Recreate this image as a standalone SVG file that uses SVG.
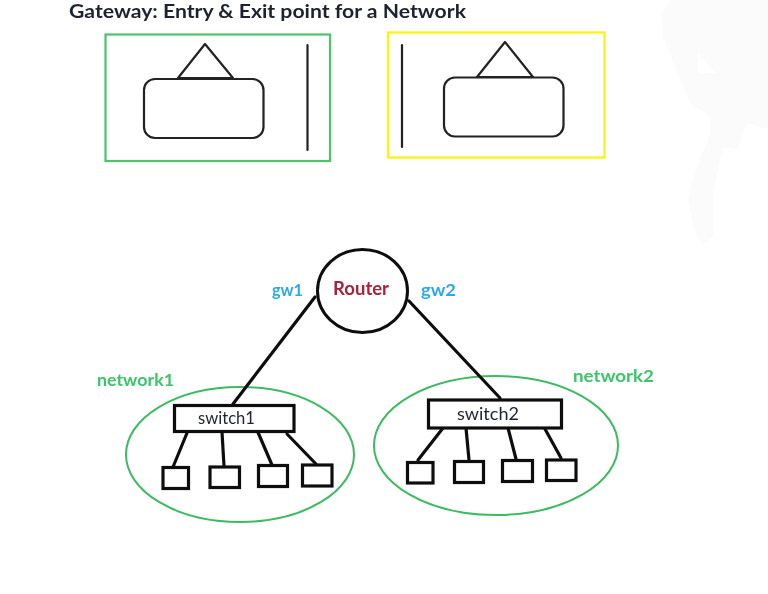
<svg xmlns="http://www.w3.org/2000/svg" width="768" height="594" viewBox="0 0 768 594">
<defs><filter id="soft" x="-5%" y="-5%" width="110%" height="110%"><feGaussianBlur stdDeviation="0.45"/></filter></defs>
<style>
text{font-family:"Lato","Open Sans","Liberation Sans",sans-serif}
.sh{fill:none;stroke:#222;stroke-width:2.2;stroke-linejoin:round;stroke-linecap:round}
.th{fill:none;stroke:#111;stroke-width:3.2;stroke-linecap:round}
.box{fill:#fff;stroke:#111;stroke-width:3.2}
.net{fill:none;stroke:#3dbb62;stroke-width:2}
.lab{font-size:17px;font-weight:700;fill:#3cc46a}
.gw{font-size:17px;font-weight:700;fill:#2aa9e8}
.sw{font-size:17px;fill:#1c2433}
</style>
<rect width="768" height="594" fill="#fff"/>
<g filter="url(#soft)">
<path id="watermark" fill="#fbfbfb" fill-rule="evenodd" d="M670 0L662 13L663 37L680 80L690 103L710 117L710 133L690 187L688 200L695 233L703 245L713 237L713 193L723 147L737 150L747 123L760 127L768 130L768 0ZM698 53L698 73L715 73Z"/>
<text id="title" x="69" y="18" font-size="19" font-weight="700" fill="#1d2230" textLength="397" lengthAdjust="spacingAndGlyphs">Gateway: Entry &amp; Exit point for a Network</text>
<g id="gateway-green">
<rect x="105.500" y="34.500" width="224.500" height="126.500" fill="none" stroke="#4cc46c" stroke-width="2.200"/>
<path class="sh" d="M178 78L205 44L233 78Z"/>
<rect class="sh" x="144" y="79" width="119.500" height="59" rx="11"/>
<line class="sh" x1="307.500" y1="45" x2="307.500" y2="150"/>
</g>
<g id="gateway-yellow">
<rect x="388" y="32.500" width="216.500" height="125" fill="none" stroke="#fff21c" stroke-width="2.400"/>
<path class="sh" d="M477 77L505 42L533 77Z"/>
<rect class="sh" x="444" y="77.500" width="119.500" height="59" rx="11"/>
<line class="sh" x1="402" y1="45" x2="402" y2="147"/>
</g>
<g id="network1">
<ellipse class="net" cx="240" cy="454.500" rx="114" ry="67.500"/>
<text class="lab" x="97" y="386" textLength="77" lengthAdjust="spacingAndGlyphs">network1</text>
</g>
<g id="network2">
<ellipse class="net" cx="496" cy="445.500" rx="122" ry="69.500"/>
<text class="lab" x="573" y="382" textLength="81" lengthAdjust="spacingAndGlyphs">network2</text>
</g>
<g id="connectors">
<line class="th" x1="315" y1="297" x2="233" y2="404"/>
<line class="th" x1="409" y1="301" x2="500" y2="398"/>
<line class="th" x1="187" y1="433" x2="173" y2="467"/>
<line class="th" x1="222" y1="432" x2="224" y2="466"/>
<line class="th" x1="257" y1="430" x2="272" y2="465"/>
<line class="th" x1="287" y1="434" x2="316" y2="464"/>
<line class="th" x1="443" y1="428" x2="418" y2="460"/>
<line class="th" x1="466" y1="428" x2="469" y2="460"/>
<line class="th" x1="508" y1="428" x2="516" y2="459"/>
<line class="th" x1="545" y1="429" x2="561" y2="458"/>
</g>
<g id="router">
<ellipse cx="362.500" cy="291" rx="45" ry="41.500" fill="#fff" stroke="#111" stroke-width="3"/>
<text x="333" y="295" font-size="18" font-weight="700" fill="#a8233a" textLength="56" lengthAdjust="spacingAndGlyphs">Router</text>
</g>
<g id="gw1"><text class="gw" x="272" y="296" textLength="31" lengthAdjust="spacingAndGlyphs">gw1</text></g>
<g id="gw2"><text class="gw" x="421" y="296" textLength="35" lengthAdjust="spacingAndGlyphs">gw2</text></g>
<g id="switch1">
<rect class="box" x="174.500" y="405.500" width="119.500" height="26"/>
<text class="sw" x="198" y="424" textLength="57" lengthAdjust="spacingAndGlyphs">switch1</text>
</g>
<g id="switch2">
<rect class="box" x="428.500" y="400" width="133" height="28"/>
<text class="sw" x="457" y="420" textLength="62" lengthAdjust="spacingAndGlyphs">switch2</text>
</g>
<g id="host1-1"><rect class="box" x="163" y="467.500" width="25.500" height="21"/></g>
<g id="host1-2"><rect class="box" x="210" y="467" width="29.500" height="20.500"/></g>
<g id="host1-3"><rect class="box" x="258.500" y="465.500" width="29" height="21"/></g>
<g id="host1-4"><rect class="box" x="302.500" y="465" width="29.500" height="21"/></g>
<g id="host2-1"><rect class="box" x="407.500" y="462.500" width="25.500" height="20.500"/></g>
<g id="host2-2"><rect class="box" x="454.500" y="461.500" width="29" height="21"/></g>
<g id="host2-3"><rect class="box" x="502.500" y="460.500" width="30" height="21"/></g>
<g id="host2-4"><rect class="box" x="546.500" y="460" width="29.500" height="20.500"/></g>
</g>
</svg>
